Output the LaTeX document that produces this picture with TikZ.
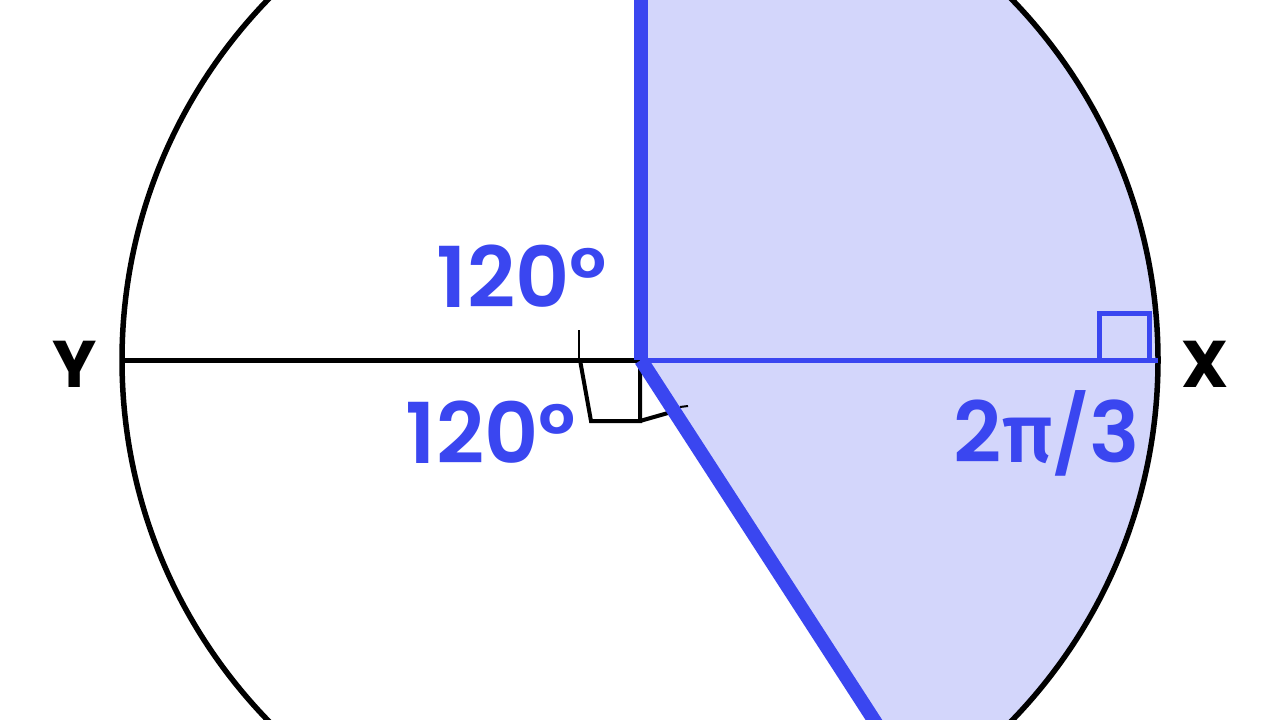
\documentclass[tikz,border=0pt]{standalone}
\usepackage{fontspec}
\setmainfont{Poppins}[BoldFont={Poppins SemiBold}]
\newfontfamily\heavyfont{Poppins Bold}
\newfontfamily\pifont{Fira Sans}[BoldFont={Fira Sans Medium}]
\usetikzlibrary{calc}
\definecolor{bl}{HTML}{3A46F0}
\definecolor{fl}{HTML}{D3D6FB}
\tikzset{
  blab/.style={text=bl, font=\fontsize{84}{90}\selectfont\bfseries, inner sep=0pt},
  klab/.style={text=black, font=\fontsize{66}{70}\selectfont\heavyfont, inner sep=0pt},
  angmark/.style={line width=4pt, black, line join=miter},
}
\begin{document}
\begin{tikzpicture}[x=1pt,y=-1pt]
\useasboundingbox (0,0) rectangle (1280,720);
\fill[white] (0,0) rectangle (1280,720);
\clip (0,0) rectangle (1280,720);
\coordinate (C) at (640,360);
\coordinate (T) at (640,-158);
\coordinate (R) at (1158,360);
\coordinate (L) at (122,360);
\coordinate (S) at (927,802);
% shaded sector
\begin{scope}
\clip (C) -- (640,-400) -- (1600,-400) -- (1600,1440) -- (1345,1440) -- cycle;
\fill[fl] (C) circle[radius=518];
\end{scope}
\draw[line width=5.5pt] (C) circle[radius=518];
\draw[line width=5pt] (L) -- (C);
% black marks
\coordinate (m1) at (579,330);
\coordinate (m2) at (579,360);
\coordinate (q1) at (580,360);
\coordinate (q2) at (591,421);
\coordinate (q3) at (640,421);
\coordinate (q4) at (640,360);
\coordinate (q5) at (668,413);
\coordinate (t1) at (680,407);
\coordinate (t2) at (688,406);
\draw[line width=1.5pt] (m1) -- (m2);
\draw[angmark] (q1) -- (q2) -- (q3) -- (q4);
\draw[angmark] (q3) -- (q5);
\draw[line width=2pt] (t1) -- (t2);
% blue lines
\draw[bl, line width=5pt] (C) -- (R);
\draw[bl, line width=14pt] (641,360) -- (641,-170);
\draw[bl, line width=14pt, line cap=butt] (641,360) -- (S);
\coordinate (s1) at (1099,360);
\coordinate (s2) at (1099,313);
\coordinate (s3) at (1149,313);
\coordinate (s4) at (1149,360);
\draw[bl, line width=5pt] (s1) -- (s2) -- (s3) -- (s4);
% labels
\node[blab] (a1) at (522,276) {120°};
\node[blab] (a2) at (491,432) {120°};
\node[blab, anchor=base] (a3) at (1047,462) {2{\pifont\bfseries π}{\fontsize{76}{80}\selectfont/}3};
\node[klab] (x) at (1205,364) {X};
\node[klab] (y) at (75,364) {Y};
\end{tikzpicture}
\end{document}
